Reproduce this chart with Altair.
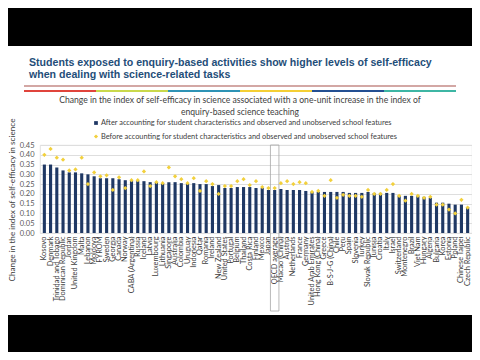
import altair as alt
import pandas as pd

countries = [
    "Kosovo", "Denmark", "Trinidad and Tobago", "Dominican Republic", "Jordan",
    "United Kingdom", "Malta", "Lebanon", "Moldova", "FYROM", "Sweden", "Georgia",
    "Canada", "Norway", "CABA (Argentina)", "Russia", "Iceland", "Latvia",
    "Luxembourg", "Lithuania", "Singapore", "Australia", "Colombia", "Uruguay",
    "Indonesia", "Qatar", "Romania", "Ireland", "New Zealand", "United States",
    "Portugal", "Belgium", "Thailand", "Costa Rica", "Finland", "Mexico", "Japan",
    "OECD average", "Macao (China)", "Austria", "Netherlands", "France", "Germany",
    "United Arab Emirates", "Hong Kong (China)", "Greece", "B-S-J-G (China)",
    "Chile", "Peru", "Spain", "Slovenia", "Turkey", "Slovak Republic", "Tunisia",
    "Croatia", "Italy", "Israel", "Switzerland", "Montenegro", "Brazil", "Viet Nam",
    "Hungary", "Algeria", "Bulgaria", "Korea", "Estonia", "Poland",
    "Chinese Taipei", "Czech Republic",
]

after_vals = [
    0.35, 0.35, 0.335, 0.32, 0.31, 0.31, 0.305, 0.30, 0.29, 0.28, 0.28, 0.28,
    0.275, 0.27, 0.265, 0.265, 0.265, 0.26, 0.26, 0.255, 0.26, 0.26, 0.255, 0.25,
    0.255, 0.25, 0.25, 0.24, 0.245, 0.23, 0.23, 0.235, 0.235, 0.235, 0.23, 0.23,
    0.22, 0.22, 0.225, 0.22, 0.22, 0.22, 0.215, 0.21, 0.21, 0.21, 0.21, 0.21, 0.21,
    0.205, 0.205, 0.205, 0.21, 0.205, 0.205, 0.205, 0.205, 0.19, 0.19, 0.19, 0.19,
    0.185, 0.18, 0.155, 0.155, 0.15, 0.145, 0.145, 0.13,
]

before_vals = [
    0.40, 0.43, 0.385, 0.375, 0.32, 0.325, 0.385, 0.25, 0.31, 0.29, 0.295, 0.22,
    0.285, 0.23, 0.27, 0.27, 0.315, 0.24, 0.26, 0.255, 0.335, 0.29, 0.275, 0.255,
    0.28, 0.215, 0.265, 0.25, 0.20, 0.24, 0.24, 0.265, 0.275, 0.245, 0.265, 0.235,
    0.23, 0.23, 0.255, 0.265, 0.25, 0.26, 0.255, 0.21, 0.215, 0.19, 0.27, 0.18,
    0.195, 0.19, 0.19, 0.185, 0.22, 0.20, 0.20, 0.22, 0.25, 0.19, 0.165, 0.20,
    0.19, 0.18, 0.185, 0.145, 0.145, 0.12, 0.10, 0.17, 0.13,
]

y_ticks = [0.0, 0.05, 0.10, 0.15, 0.20, 0.25, 0.30, 0.35, 0.40, 0.45]

title_lines = [
    "Students exposed to enquiry-based activities show higher levels of self-efficacy",
    "when dealing with science-related tasks",
]
subtitle_lines = [
    "Change in the index of self-efficacy in science associated with a one-unit increase in the index of",
    "enquiry-based science teaching",
]
legend_after = "After accounting for student characteristics and observed and unobserved school features"
legend_before = "Before accounting for student characteristics and observed and unobserved school features"
y_title = "Change in the index of self-efficacy in science"

stripe_colors = ["#e0443c", "#c9d84c", "#2e93b5", "#f4cf35", "#234f92", "#3db6a4"]

df = pd.DataFrame({"country": countries, "after": after_vals, "before": before_vals})
one = pd.DataFrame({"a": [0]})

NAVY = "#1f3864"
YELLOW = "#f2d03c"
FONT = "Lato"
TXT = "#404040"

W, H = 432, 88

x_axis = alt.Axis(title=None, labelAngle=270, labelFontSize=7.4, labelColor=TXT,
                  labelFont=FONT, ticks=False, domain=False, labelPadding=3,
                  labelOverlap=False, labelAlign="right", labelBaseline="middle",
                  grid=False)
x_scale = alt.Scale(paddingInner=0.5, paddingOuter=0.45)
y_axis = alt.Axis(title=None, values=y_ticks, format=".2f", labelFontSize=7.5,
                  labelColor="#595959", labelFont=FONT, ticks=False,
                  domain=False, labelPadding=6, gridColor="#dedede",
                  labelOverlap=False, tickCount=10)
y_scale = alt.Scale(domain=[0, 0.45], nice=False)

bars = alt.Chart(df).mark_bar(color=NAVY).encode(
    x=alt.X("country:N", sort=countries, scale=x_scale, axis=x_axis),
    y=alt.Y("after:Q", scale=y_scale, axis=y_axis),
)

dots = alt.Chart(df).mark_point(shape="diamond", filled=True, size=18, color=YELLOW,
                                opacity=1).encode(
    x=alt.X("country:N", sort=countries, scale=x_scale, axis=x_axis),
    y=alt.Y("before:Q", scale=y_scale, axis=y_axis),
)

oecd_box = alt.Chart(df[df["country"] == "OECD average"]).mark_bar(
    width=8.5, fillOpacity=0, stroke="#a6a6a6", strokeWidth=0.8
).encode(
    x=alt.X("country:N", sort=countries, scale=x_scale, axis=x_axis),
    y=alt.value(0), y2=alt.value(166),
)


def px(v):
    return alt.value(v)


def txt(text, x, y, size, color=TXT, weight="normal", align="left", font=FONT, angle=0):
    kw = dict(text=text, fontSize=size, color=color, fontWeight=weight, align=align,
              baseline="middle", font=font)
    if angle:
        kw["angle"] = angle
    return alt.Chart(one).mark_text(**kw).encode(x=px(x), y=px(y))


layers = []
# black video bands
layers.append(alt.Chart(one).mark_rect(color="black").encode(
    x=px(-32), x2=px(W), y=px(-137), y2=px(-99)))
layers.append(alt.Chart(one).mark_rect(color="black").encode(
    x=px(-32), x2=px(W), y=px(170), y2=px(207)))

# title
layers.append(txt(title_lines[0], -11, -82, 10.6, color="#1f4e79", weight="bold",
                  font="Liberation Sans"))
layers.append(txt(title_lines[1], -11, -70, 10.6, color="#1f4e79", weight="bold",
                  font="Liberation Sans"))

# decorative rules
layers.append(alt.Chart(one).mark_rule(color="#c48a86", strokeWidth=1.5).encode(
    x=px(-16), x2=px(416), y=px(-59)))
seg_edges = [-16, 56, 128, 200, 272, 344, 416]
for i, c in enumerate(stripe_colors):
    layers.append(alt.Chart(one).mark_rule(color=c, strokeWidth=2).encode(
        x=px(seg_edges[i]), x2=px(seg_edges[i + 1]), y=px(-54)))

# subtitle
layers.append(txt(subtitle_lines[0], 200, -45, 8.6, align="center"))
layers.append(txt(subtitle_lines[1], 200, -33, 8.6, align="center"))

# legend
layers.append(alt.Chart(one).mark_square(size=14, color=NAVY, opacity=1).encode(
    x=px(56), y=px(-22)))
layers.append(txt(legend_after, 61, -22, 7.4))
layers.append(alt.Chart(one).mark_point(shape="diamond", filled=True, size=18,
                                        color=YELLOW, opacity=1).encode(
    x=px(56), y=px(-8.5)))
layers.append(txt(legend_before, 61, -8.5, 7.4))

# y title
layers.append(txt(y_title, -27, 55, 8.2, align="center", angle=270))

chart = alt.layer(*layers, oecd_box, bars, dots).properties(
    width=W, height=H,
    autosize=alt.AutoSizeParams(type="none"),
    padding={"left": 32, "top": 137, "right": 0, "bottom": 119},
    background="white",
).configure_view(stroke="#d9d9d9", strokeWidth=0.8)

chart.save("out.html", embed_options={"renderer": "svg", "actions": False})
